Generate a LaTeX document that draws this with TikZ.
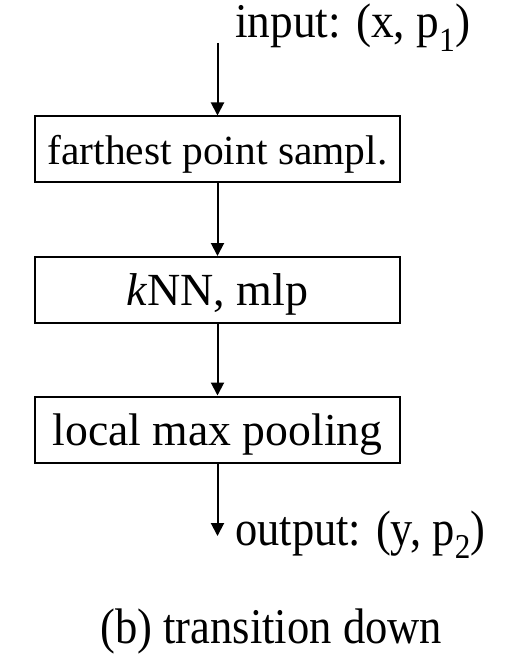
\documentclass[tikz,border=0pt]{standalone}
\usepackage{fontspec}
\setmainfont{Liberation Serif}
\usetikzlibrary{arrows.meta}
\begin{document}
\begin{tikzpicture}[x=1pt,y=-1pt,
  blk/.style={draw, line width=2pt, minimum width=365pt, minimum height=66pt, inner sep=0pt, text height=31pt, text depth=0pt},
  lbl/.style={anchor=base west, inner sep=0pt},
  arr/.style={line width=2pt, -{Triangle[length=13pt,width=13pt]}}]
\useasboundingbox (0,0) rectangle (512,660);
\node[blk, font=\fontsize{41.5}{50}\selectfont] (b1) at (217.5,149.5) {farthest point sampl.};
\node[blk, font=\fontsize{46}{54}\selectfont] (b2) at (217.5,290) {\textit{k}NN, mlp};
\node[blk, font=\fontsize{45.7}{54}\selectfont] (b3) at (217.5,429.5) {local max pooling};
\node[lbl, font=\fontsize{45.3}{54}\selectfont] (in) at (235,38) {\scalebox{1}[1.07]{input: (x, p\textsubscript{1})}};
\node[lbl, font=\fontsize{44.5}{54}\selectfont] (out) at (235,545) {\scalebox{1}[1.12]{output: (y, p\textsubscript{2})}};
\node[lbl, font=\fontsize{44.6}{54}\selectfont] (cap) at (100,643) {\scalebox{1}[1.12]{(b) transition down}};
\coordinate (s) at (217.5,43);
\coordinate (e) at (217.5,536);
\draw[arr] (s) -- (b1.north);
\draw[arr] (b1) -- (b2);
\draw[arr] (b2) -- (b3);
\draw[arr] (b3) -- (e);
\end{tikzpicture}
\end{document}
